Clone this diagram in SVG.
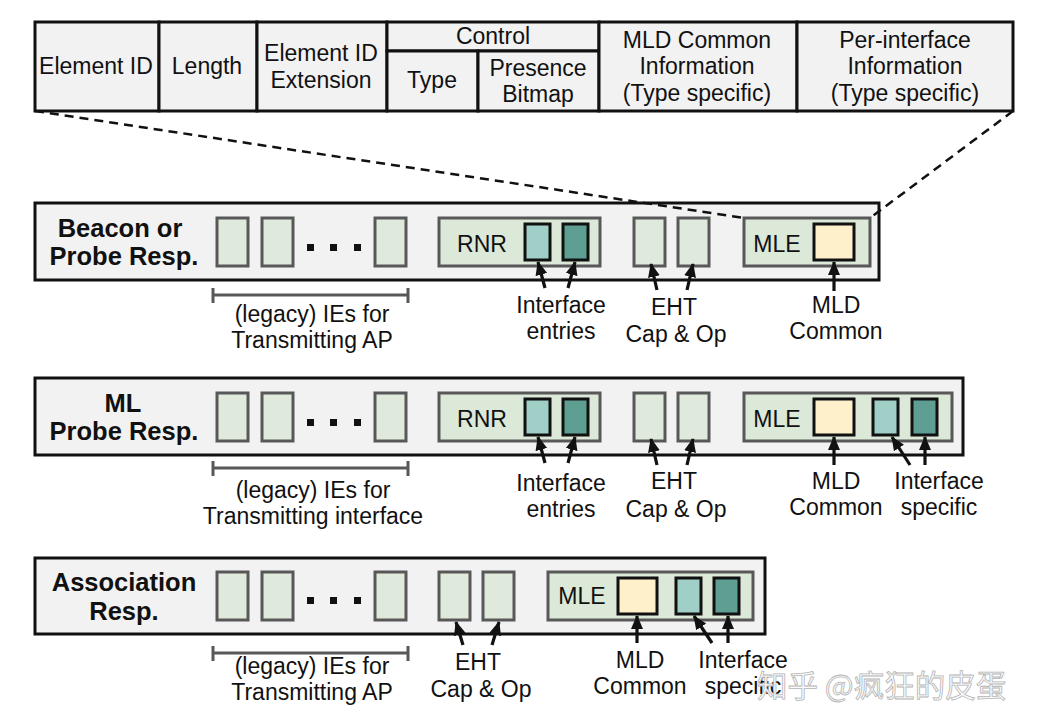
<svg xmlns="http://www.w3.org/2000/svg" width="1038" height="728" viewBox="0 0 1038 728">
<defs>
<style>
.t{font-family:"Liberation Sans",Arial,sans-serif;font-size:23px;fill:#111;text-anchor:middle}
.b{font-family:"Liberation Sans",Arial,sans-serif;font-size:25.5px;font-weight:bold;fill:#111;text-anchor:middle}
.cell{fill:#f2f2f2;stroke:#111;stroke-width:3}
.row{fill:#f2f2f2;stroke:#111;stroke-width:3}
.ie{fill:#dfe9dc;stroke:#585858;stroke-width:3}
.cont{fill:#dce8d8;stroke:#585858;stroke-width:3}
.lt{fill:#9fcfc7;stroke:#111;stroke-width:3}
.dk{fill:#5e9e93;stroke:#111;stroke-width:3}
.mc{fill:#fff0cc;stroke:#111;stroke-width:3}
.dot{fill:#111}
.br{stroke:#585858;stroke-width:3;fill:none}
.ar{stroke:#111;stroke-width:3.2;fill:none;marker-end:url(#ah)}
.dash{stroke:#111;stroke-width:2.5;stroke-dasharray:9 6;fill:none}
</style>
<marker id="ah" markerUnits="userSpaceOnUse" markerWidth="15" markerHeight="14" viewBox="0 0 15 14" refX="13" refY="7" orient="auto">
<path d="M0,1 L14,7 L0,13 Z" fill="#111"/>
</marker>
</defs>
<rect width="1038" height="728" fill="#fff"/>

<g id="header">
<rect class="cell" x="35" y="22" width="124" height="89"/>
<rect class="cell" x="159" y="22" width="98" height="89"/>
<rect class="cell" x="257" y="22" width="130" height="89"/>
<rect class="cell" x="387" y="22" width="212" height="29"/>
<rect class="cell" x="387" y="51" width="91" height="60"/>
<rect class="cell" x="478" y="51" width="121" height="60"/>
<rect class="cell" x="599" y="22" width="198" height="89"/>
<rect class="cell" x="797" y="22" width="216" height="89"/>
<text class="t" x="96" y="74">Element ID</text>
<text class="t" x="207" y="74">Length</text>
<text class="t" x="321" y="61">Element ID</text>
<text class="t" x="321" y="88">Extension</text>
<text class="t" x="493" y="44">Control</text>
<text class="t" x="432" y="88">Type</text>
<text class="t" x="538" y="76">Presence</text>
<text class="t" x="538" y="102">Bitmap</text>
<text class="t" x="697" y="48">MLD Common</text>
<text class="t" x="697" y="74">Information</text>
<text class="t" x="697" y="101">(Type specific)</text>
<text class="t" x="905" y="48">Per-interface</text>
<text class="t" x="905" y="74">Information</text>
<text class="t" x="905" y="101">(Type specific)</text>
</g>

<g id="row-beacon">
<rect class="row" x="35" y="203" width="844" height="77"/>
<text class="b" x="120" y="237">Beacon or</text>
<text class="b" x="124" y="265">Probe Resp.</text>
<rect class="ie" x="217" y="218" width="31" height="48"/>
<rect class="ie" x="262" y="218" width="31" height="48"/>
<rect class="dot" x="307" y="244" width="7" height="7"/>
<rect class="dot" x="330" y="244" width="7" height="7"/>
<rect class="dot" x="354" y="244" width="7" height="7"/>
<rect class="ie" x="375" y="218" width="31" height="48"/>
<rect class="cont" x="439" y="218" width="161" height="48"/>
<text class="t" x="482" y="252">RNR</text>
<rect class="lt" x="525" y="224" width="25" height="36"/>
<rect class="dk" x="563" y="224" width="25" height="36"/>
<rect class="ie" x="634" y="218" width="31" height="48"/>
<rect class="ie" x="678" y="218" width="31" height="48"/>
<rect class="cont" x="744" y="218" width="126" height="48"/>
<text class="t" x="777" y="252">MLE</text>
<rect class="mc" x="814" y="224" width="40" height="36"/>
<path class="br" d="M213,288 V303 M213,295 H408 M408,288 V303"/>
<text class="t" x="312" y="322">(legacy) IEs for</text>
<text class="t" x="312" y="348">Transmitting AP</text>
<text class="t" x="561" y="313">Interface</text>
<text class="t" x="561" y="339">entries</text>
<text class="t" x="674" y="315">EHT</text>
<text class="t" x="676" y="342">Cap &amp; Op</text>
<text class="t" x="836" y="313">MLD</text>
<text class="t" x="836" y="339">Common</text>
</g>

<g id="row-ml-probe">
<rect class="row" x="35" y="378" width="928" height="77"/>
<text class="b" x="123" y="412">ML</text>
<text class="b" x="124" y="440">Probe Resp.</text>
<rect class="ie" x="217" y="393" width="31" height="48"/>
<rect class="ie" x="262" y="393" width="31" height="48"/>
<rect class="dot" x="307" y="419" width="7" height="7"/>
<rect class="dot" x="330" y="419" width="7" height="7"/>
<rect class="dot" x="354" y="419" width="7" height="7"/>
<rect class="ie" x="375" y="393" width="31" height="48"/>
<rect class="cont" x="439" y="393" width="161" height="48"/>
<text class="t" x="482" y="427">RNR</text>
<rect class="lt" x="525" y="399" width="25" height="36"/>
<rect class="dk" x="563" y="399" width="25" height="36"/>
<rect class="ie" x="634" y="393" width="31" height="48"/>
<rect class="ie" x="678" y="393" width="31" height="48"/>
<rect class="cont" x="744" y="393" width="208" height="48"/>
<text class="t" x="777" y="427">MLE</text>
<rect class="mc" x="814" y="399" width="40" height="36"/>
<rect class="lt" x="873" y="399" width="25" height="36"/>
<rect class="dk" x="912" y="399" width="25" height="36"/>
<path class="br" d="M213,461 V476 M213,468 H408 M408,461 V476"/>
<text class="t" x="313" y="498">(legacy) IEs for</text>
<text class="t" x="313" y="524">Transmitting interface</text>
<text class="t" x="561" y="491">Interface</text>
<text class="t" x="561" y="517">entries</text>
<text class="t" x="674" y="489">EHT</text>
<text class="t" x="676" y="517">Cap &amp; Op</text>
<text class="t" x="836" y="489">MLD</text>
<text class="t" x="836" y="515">Common</text>
<text class="t" x="939" y="489">Interface</text>
<text class="t" x="939" y="515">specific</text>
</g>

<g id="row-assoc">
<rect class="row" x="35" y="558" width="730" height="76"/>
<text class="b" x="124" y="591">Association</text>
<text class="b" x="124" y="620">Resp.</text>
<rect class="ie" x="217" y="572" width="31" height="48"/>
<rect class="ie" x="262" y="572" width="31" height="48"/>
<rect class="dot" x="307" y="597" width="7" height="7"/>
<rect class="dot" x="330" y="597" width="7" height="7"/>
<rect class="dot" x="354" y="597" width="7" height="7"/>
<rect class="ie" x="375" y="572" width="31" height="48"/>
<rect class="ie" x="439" y="572" width="31" height="48"/>
<rect class="ie" x="483" y="572" width="31" height="48"/>
<rect class="cont" x="548" y="572" width="205" height="48"/>
<text class="t" x="582" y="604">MLE</text>
<rect class="mc" x="618" y="578" width="39" height="36"/>
<rect class="lt" x="676" y="578" width="25" height="36"/>
<rect class="dk" x="714" y="578" width="25" height="36"/>
<path class="br" d="M213,646 V661 M213,653 H408 M408,646 V661"/>
<text class="t" x="312" y="674">(legacy) IEs for</text>
<text class="t" x="312" y="700">Transmitting AP</text>
<text class="t" x="478" y="670">EHT</text>
<text class="t" x="481" y="697">Cap &amp; Op</text>
<text class="t" x="640" y="668">MLD</text>
<text class="t" x="640" y="694">Common</text>
<text class="t" x="743" y="668">Interface</text>
<text class="t" x="743" y="694">specific</text>
</g>

<g id="connectors">
<path class="dash" d="M35,111 L744,218"/>
<path class="dash" d="M1013,111 L870,218"/>
<path class="ar" d="M545,288 L538,262"/>
<path class="ar" d="M568,288 L575,262"/>
<path class="ar" d="M657,290 L651,264"/>
<path class="ar" d="M687,290 L693,264"/>
<path class="ar" d="M834,291 L834,262"/>
<path class="ar" d="M545,463 L538,437"/>
<path class="ar" d="M568,463 L575,437"/>
<path class="ar" d="M657,465 L651,439"/>
<path class="ar" d="M687,465 L693,439"/>
<path class="ar" d="M834,465 L834,437"/>
<path class="ar" d="M910,465 L892,437"/>
<path class="ar" d="M925,465 L925,437"/>
<path class="ar" d="M463,645 L456,622"/>
<path class="ar" d="M492,645 L499,622"/>
<path class="ar" d="M637,643 L637,616"/>
<path class="ar" d="M712,643 L694,616"/>
<path class="ar" d="M728,643 L728,616"/>
</g>

<text x="757" y="697" style="font-family:'Noto Sans CJK SC','Noto Sans',sans-serif;font-size:30.5px;fill:#fbfbfb;stroke:#b4b4b4;stroke-width:0.8">知乎 @疯狂的皮蛋</text>
</svg>
